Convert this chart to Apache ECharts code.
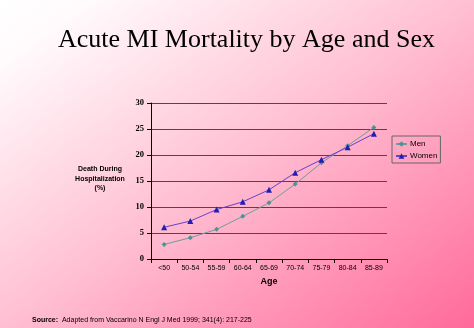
<!DOCTYPE html>
<html><head><meta charset="utf-8">
<script src="https://cdn.jsdelivr.net/npm/echarts@6/dist/echarts.min.js"></script>
<style>html,body{margin:0;padding:0;}#c{width:474px;height:328px;}</style>
</head><body><div id="c"></div>
<script>
const categories = ['<50','50-54','55-59','60-64','65-69','70-74','75-79','80-84','85-89'];
const men = [2.8, 4.1, 5.7, 8.2, 10.8, 14.4, 18.5, 21.8, 25.3];
const women = [6.1, 7.3, 9.5, 11.0, 13.3, 16.6, 19.1, 21.5, 24.1];
const yTicks = [0, 5, 10, 15, 20, 25, 30];

const chart = echarts.init(document.getElementById('c'));
chart.setOption({
  animation: false,
  backgroundColor: {
    type: 'linear', global: true, x: 0, y: 0, x2: 307, y2: 444,
    colorStops: [
      {offset: 0, color: '#ffffff'},
      {offset: 0.1, color: '#fffafc'},
      {offset: 0.5, color: '#ffbfd2'},
      {offset: 1, color: '#ff6a9b'}
    ]
  },
  title: {
    text: 'Acute MI Mortality by Age and Sex',
    left: 53, top: 22,
    textStyle: {fontFamily: 'Liberation Serif', fontWeight: 'normal', fontSize: 26, color: '#000'}
  },
  grid: {left: 151, right: 87, top: 103, bottom: 69},
  legend: {
    orient: 'vertical', left: 392, top: 136,
    padding: [4, 3, 3, 3], itemGap: 4, itemWidth: 11, itemHeight: 7,
    borderColor: '#666', borderWidth: 1,
    textStyle: {fontFamily: 'Liberation Sans', fontSize: 8, color: '#000', padding: [0, 0, 0, -2]},
    data: ['Men', 'Women']
  },
  xAxis: {
    type: 'category', data: categories, boundaryGap: true,
    name: 'Age', nameLocation: 'middle', nameGap: 18,
    nameTextStyle: {fontFamily: 'Liberation Sans', fontWeight: 'bold', fontSize: 9, color: '#000'},
    axisLine: {lineStyle: {color: '#000', width: 1}},
    axisTick: {show: true, length: 4, lineStyle: {color: '#000'}},
    axisLabel: {fontFamily: 'Liberation Sans', fontSize: 7, color: '#000', margin: 6, interval: 0}
  },
  yAxis: {
    type: 'value', min: yTicks[0], max: yTicks[yTicks.length - 1], interval: 5,
    axisLine: {show: true, lineStyle: {color: '#000'}},
    axisTick: {show: true, length: 4, lineStyle: {color: '#000'}},
    axisLabel: {fontFamily: 'Liberation Serif', fontWeight: 'bold', fontSize: 8.5, color: '#000', margin: 7},
    splitLine: {lineStyle: {color: '#4a4a4a', width: 1}}
  },
  graphic: [
    {type: 'text', x: 100, y: 164.5, style: {
      text: 'Death During\nHospitalization\n(%)', align: 'center', verticalAlign: 'top',
      font: 'bold 7px "Liberation Sans"', lineHeight: 9.5, fill: '#000'}},
    {type: 'text', x: 32, y: 317, style: {
      text: '{b|Source:}  Adapted from Vaccarino N Engl J Med 1999; 341(4): 217-225',
      rich: {b: {fontWeight: 'bold', fontFamily: 'Liberation Sans', fontSize: 7, fill: '#000'}},
      font: '7px "Liberation Sans"', fill: '#000'}}
  ],
  series: [
    {name: 'Men', type: 'line', data: men, symbol: 'diamond', symbolSize: 5,
      lineStyle: {color: '#6f9c9e', width: 1}, itemStyle: {color: '#4a9494'}},
    {name: 'Women', type: 'line', data: women, symbol: 'triangle', symbolSize: 6,
      lineStyle: {color: '#6a3fcc', width: 1}, itemStyle: {color: '#1f1fb0'}}
  ]
});
</script></body></html>
